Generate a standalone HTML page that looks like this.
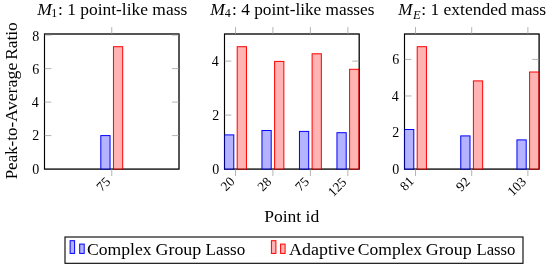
<!DOCTYPE html>
<html><head><meta charset="utf-8"><style>
html,body{margin:0;padding:0;background:#fff;width:550px;height:267px;overflow:hidden}
svg{display:block;font-family:"Liberation Serif", "DejaVu Serif", serif}
text{fill:#000}
</style></head><body>
<svg width="550" height="267" viewBox="0 0 550 267">
<rect width="550" height="267" fill="#fff"/>
<rect x="44.5" y="34.0" width="134.50" height="135.10" fill="none" stroke="#000" stroke-width="1.1"/>
<line x1="44.5" y1="135.60" x2="51.4" y2="135.60" stroke="#b4b4b4" stroke-width="1"/>
<line x1="179.0" y1="135.60" x2="172.1" y2="135.60" stroke="#b4b4b4" stroke-width="1"/>
<line x1="44.5" y1="102.10" x2="51.4" y2="102.10" stroke="#b4b4b4" stroke-width="1"/>
<line x1="179.0" y1="102.10" x2="172.1" y2="102.10" stroke="#b4b4b4" stroke-width="1"/>
<line x1="44.5" y1="68.60" x2="51.4" y2="68.60" stroke="#b4b4b4" stroke-width="1"/>
<line x1="179.0" y1="68.60" x2="172.1" y2="68.60" stroke="#b4b4b4" stroke-width="1"/>
<line x1="44.5" y1="35.10" x2="51.4" y2="35.10" stroke="#b4b4b4" stroke-width="1"/>
<line x1="179.0" y1="35.10" x2="172.1" y2="35.10" stroke="#b4b4b4" stroke-width="1"/>
<line x1="111.75" y1="169.1" x2="111.75" y2="176.0" stroke="#b4b4b4" stroke-width="1"/>
<line x1="111.75" y1="34.0" x2="111.75" y2="27.1" stroke="#b4b4b4" stroke-width="1"/>
<rect x="100.80" y="135.60" width="9.25" height="33.50" fill="#b3b3ff" stroke="#0000ff" stroke-width="1"/>
<rect x="113.45" y="46.70" width="9.25" height="122.40" fill="#ffb3b3" stroke="#ff0000" stroke-width="1"/>
<rect x="44.5" y="34.0" width="134.50" height="135.10" fill="none" stroke="#000" stroke-opacity="0.45" stroke-width="1.1"/>
<rect x="224.5" y="34.0" width="134.70" height="135.10" fill="none" stroke="#000" stroke-width="1.1"/>
<line x1="224.5" y1="115.10" x2="231.4" y2="115.10" stroke="#b4b4b4" stroke-width="1"/>
<line x1="359.2" y1="115.10" x2="352.3" y2="115.10" stroke="#b4b4b4" stroke-width="1"/>
<line x1="224.5" y1="61.10" x2="231.4" y2="61.10" stroke="#b4b4b4" stroke-width="1"/>
<line x1="359.2" y1="61.10" x2="352.3" y2="61.10" stroke="#b4b4b4" stroke-width="1"/>
<line x1="235.5" y1="169.1" x2="235.5" y2="176.0" stroke="#b4b4b4" stroke-width="1"/>
<line x1="235.5" y1="34.0" x2="235.5" y2="27.1" stroke="#b4b4b4" stroke-width="1"/>
<line x1="272.9" y1="169.1" x2="272.9" y2="176.0" stroke="#b4b4b4" stroke-width="1"/>
<line x1="272.9" y1="34.0" x2="272.9" y2="27.1" stroke="#b4b4b4" stroke-width="1"/>
<line x1="310.4" y1="169.1" x2="310.4" y2="176.0" stroke="#b4b4b4" stroke-width="1"/>
<line x1="310.4" y1="34.0" x2="310.4" y2="27.1" stroke="#b4b4b4" stroke-width="1"/>
<line x1="347.9" y1="169.1" x2="347.9" y2="176.0" stroke="#b4b4b4" stroke-width="1"/>
<line x1="347.9" y1="34.0" x2="347.9" y2="27.1" stroke="#b4b4b4" stroke-width="1"/>
<rect x="224.55" y="134.90" width="9.25" height="34.20" fill="#b3b3ff" stroke="#0000ff" stroke-width="1"/>
<rect x="237.20" y="46.70" width="9.25" height="122.40" fill="#ffb3b3" stroke="#ff0000" stroke-width="1"/>
<rect x="261.95" y="130.50" width="9.25" height="38.60" fill="#b3b3ff" stroke="#0000ff" stroke-width="1"/>
<rect x="274.60" y="61.40" width="9.25" height="107.70" fill="#ffb3b3" stroke="#ff0000" stroke-width="1"/>
<rect x="299.45" y="131.40" width="9.25" height="37.70" fill="#b3b3ff" stroke="#0000ff" stroke-width="1"/>
<rect x="312.10" y="53.80" width="9.25" height="115.30" fill="#ffb3b3" stroke="#ff0000" stroke-width="1"/>
<rect x="336.95" y="132.70" width="9.25" height="36.40" fill="#b3b3ff" stroke="#0000ff" stroke-width="1"/>
<rect x="349.60" y="69.30" width="9.25" height="99.80" fill="#ffb3b3" stroke="#ff0000" stroke-width="1"/>
<rect x="224.5" y="34.0" width="134.70" height="135.10" fill="none" stroke="#000" stroke-opacity="0.45" stroke-width="1.1"/>
<rect x="404.5" y="34.0" width="134.60" height="135.10" fill="none" stroke="#000" stroke-width="1.1"/>
<line x1="404.5" y1="132.54" x2="411.4" y2="132.54" stroke="#b4b4b4" stroke-width="1"/>
<line x1="539.1" y1="132.54" x2="532.2" y2="132.54" stroke="#b4b4b4" stroke-width="1"/>
<line x1="404.5" y1="95.98" x2="411.4" y2="95.98" stroke="#b4b4b4" stroke-width="1"/>
<line x1="539.1" y1="95.98" x2="532.2" y2="95.98" stroke="#b4b4b4" stroke-width="1"/>
<line x1="404.5" y1="59.42" x2="411.4" y2="59.42" stroke="#b4b4b4" stroke-width="1"/>
<line x1="539.1" y1="59.42" x2="532.2" y2="59.42" stroke="#b4b4b4" stroke-width="1"/>
<line x1="415.5" y1="169.1" x2="415.5" y2="176.0" stroke="#b4b4b4" stroke-width="1"/>
<line x1="415.5" y1="34.0" x2="415.5" y2="27.1" stroke="#b4b4b4" stroke-width="1"/>
<line x1="471.7" y1="169.1" x2="471.7" y2="176.0" stroke="#b4b4b4" stroke-width="1"/>
<line x1="471.7" y1="34.0" x2="471.7" y2="27.1" stroke="#b4b4b4" stroke-width="1"/>
<line x1="527.9" y1="169.1" x2="527.9" y2="176.0" stroke="#b4b4b4" stroke-width="1"/>
<line x1="527.9" y1="34.0" x2="527.9" y2="27.1" stroke="#b4b4b4" stroke-width="1"/>
<rect x="404.55" y="129.50" width="9.25" height="39.60" fill="#b3b3ff" stroke="#0000ff" stroke-width="1"/>
<rect x="417.20" y="46.70" width="9.25" height="122.40" fill="#ffb3b3" stroke="#ff0000" stroke-width="1"/>
<rect x="460.75" y="135.90" width="9.25" height="33.20" fill="#b3b3ff" stroke="#0000ff" stroke-width="1"/>
<rect x="473.40" y="80.90" width="9.25" height="88.20" fill="#ffb3b3" stroke="#ff0000" stroke-width="1"/>
<rect x="516.95" y="139.90" width="9.25" height="29.20" fill="#b3b3ff" stroke="#0000ff" stroke-width="1"/>
<rect x="529.60" y="72.00" width="9.25" height="97.10" fill="#ffb3b3" stroke="#ff0000" stroke-width="1"/>
<rect x="404.5" y="34.0" width="134.60" height="135.10" fill="none" stroke="#000" stroke-opacity="0.45" stroke-width="1.1"/>
<rect x="65" y="237" width="458" height="26.3" fill="#fff" stroke="#000" stroke-width="1.1"/>
<rect x="70.1" y="240.7" width="4.5" height="12.70" fill="#b3b3ff" stroke="#0000ff" stroke-width="1"/>
<rect x="79.7" y="244.1" width="4.5" height="9.30" fill="#b3b3ff" stroke="#0000ff" stroke-width="1"/>
<rect x="271.4" y="240.7" width="4.5" height="12.70" fill="#ffb3b3" stroke="#ff0000" stroke-width="1"/>
<rect x="280.6" y="244.1" width="4.5" height="9.30" fill="#ffb3b3" stroke="#ff0000" stroke-width="1"/>
<text x="37.22" y="14.50" font-size="16.6" font-style="italic" textLength="14.63" lengthAdjust="spacingAndGlyphs">M</text>
<text x="51.30" y="17.10" font-size="12">1</text>
<text x="57.95" y="14.50" font-size="16" textLength="129.27" lengthAdjust="spacingAndGlyphs">: 1 point-like mass</text>
<text x="210.15" y="14.50" font-size="16.6" font-style="italic" textLength="14.62" lengthAdjust="spacingAndGlyphs">M</text>
<text x="224.67" y="17.10" font-size="12">4</text>
<text x="232.12" y="14.50" font-size="16" textLength="142.35" lengthAdjust="spacingAndGlyphs">: 4 point-like masses</text>
<text x="398.15" y="14.50" font-size="16.6" font-style="italic" textLength="14.19" lengthAdjust="spacingAndGlyphs">M</text>
<text x="412.91" y="19.00" font-size="12.5" font-style="italic">E</text>
<text x="421.24" y="14.50" font-size="16" textLength="124.87" lengthAdjust="spacingAndGlyphs">: 1 extended mass</text>
<text x="264.15" y="221.50" font-size="16" textLength="55.05" lengthAdjust="spacingAndGlyphs">Point id</text>
<text x="32.22" y="173.90" font-size="14">0</text>
<text x="32.34" y="140.40" font-size="14">2</text>
<text x="31.72" y="106.90" font-size="14">4</text>
<text x="32.18" y="73.90" font-size="14">6</text>
<text x="32.22" y="40.60" font-size="14">8</text>
<text transform="translate(111.28,182.52) rotate(-45)" font-size="13.4" text-anchor="end">75</text>
<text x="212.22" y="173.90" font-size="14">0</text>
<text x="212.34" y="119.90" font-size="14">2</text>
<text x="211.72" y="65.90" font-size="14">4</text>
<text transform="translate(235.39,182.33) rotate(-45)" font-size="13.4" text-anchor="end">20</text>
<text transform="translate(272.33,182.50) rotate(-45)" font-size="13.4" text-anchor="end">28</text>
<text transform="translate(310.00,182.54) rotate(-45)" font-size="13.4" text-anchor="end">75</text>
<text transform="translate(347.35,183.01) rotate(-45)" font-size="13.4" text-anchor="end">125</text>
<text x="392.22" y="173.90" font-size="14">0</text>
<text x="392.34" y="137.34" font-size="14">2</text>
<text x="391.72" y="100.78" font-size="14">4</text>
<text x="392.18" y="64.22" font-size="14">6</text>
<text transform="translate(414.64,181.93) rotate(-45)" font-size="13.4" text-anchor="end">81</text>
<text transform="translate(470.73,182.43) rotate(-45)" font-size="13.4" text-anchor="end">92</text>
<text transform="translate(526.87,182.43) rotate(-45)" font-size="13.4" text-anchor="end">103</text>
<text transform="translate(16.90,150.62) rotate(-90)" font-size="16" text-anchor="middle" textLength="57.42" lengthAdjust="spacingAndGlyphs">Peak-to-</text>
<text transform="translate(16.90,92.29) rotate(-90)" font-size="16" text-anchor="middle" textLength="59.28" lengthAdjust="spacingAndGlyphs">Average</text>
<text transform="translate(16.90,41.08) rotate(-90)" font-size="16" text-anchor="middle" textLength="37.57" lengthAdjust="spacingAndGlyphs">Ratio</text>
<text x="87.00" y="255.40" font-size="16" textLength="64.59" lengthAdjust="spacingAndGlyphs">Complex</text>
<text x="155.47" y="255.40" font-size="16" textLength="45.80" lengthAdjust="spacingAndGlyphs">Group</text>
<text x="205.55" y="255.40" font-size="16" textLength="39.65" lengthAdjust="spacingAndGlyphs">Lasso</text>
<text x="289.11" y="255.40" font-size="16" textLength="65.76" lengthAdjust="spacingAndGlyphs">Adaptive</text>
<text x="357.88" y="255.40" font-size="16" textLength="64.15" lengthAdjust="spacingAndGlyphs">Complex</text>
<text x="425.79" y="255.40" font-size="16" textLength="45.96" lengthAdjust="spacingAndGlyphs">Group</text>
<text x="476.51" y="255.40" font-size="16" textLength="38.93" lengthAdjust="spacingAndGlyphs">Lasso</text>
</svg>
</body></html>
